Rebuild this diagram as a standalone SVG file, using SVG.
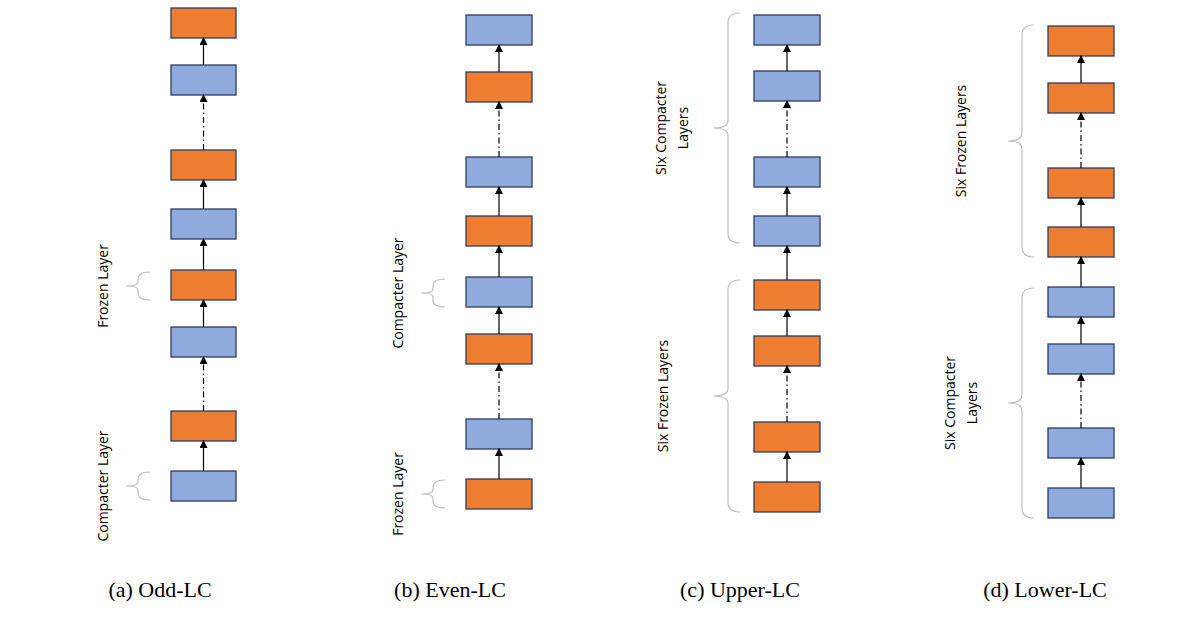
<svg xmlns="http://www.w3.org/2000/svg" width="1187" height="630" viewBox="0 0 1187 630">
<style>
.o{fill:#ed7d31;stroke:#2f3d5c;stroke-width:1.3}
.b{fill:#8faadc;stroke:#2f3d5c;stroke-width:1.3}
.s{stroke:#000;stroke-width:1.2;fill:none;marker-end:url(#ah)}
.d{stroke:#000;stroke-width:1.2;fill:none;stroke-dasharray:6 3 1.5 3;marker-end:url(#ah)}
.br{fill:none;stroke:#bfbfbf;stroke-width:1.2}
.l{font-family:"Open Sans","Noto Sans",sans-serif;font-size:14px;fill:#000;text-anchor:middle}
.c{font-family:"Liberation Serif",serif;font-size:22px;fill:#000;text-anchor:middle}
</style>
<defs><marker id="ah" markerWidth="8" markerHeight="8" refX="7" refY="4" orient="auto" markerUnits="userSpaceOnUse"><path d="M0,0 L8,4 L0,8 z" fill="#000"/></marker></defs>
<g id="nodes">
<g id="a"><rect class="o" x="171" y="8" width="65" height="30"/><rect class="b" x="171" y="65" width="65" height="30"/><rect class="o" x="171" y="150" width="65" height="30"/><rect class="b" x="171" y="209" width="65" height="30"/><rect class="o" x="171" y="270" width="65" height="30"/><rect class="b" x="171" y="327" width="65" height="30"/><rect class="o" x="171" y="411" width="65" height="30"/><rect class="b" x="171" y="471" width="65" height="30"/></g>
<g id="b"><rect class="b" x="466" y="15" width="66" height="30"/><rect class="o" x="466" y="72" width="66" height="30"/><rect class="b" x="466" y="157" width="66" height="30"/><rect class="o" x="466" y="216" width="66" height="30"/><rect class="b" x="466" y="277" width="66" height="30"/><rect class="o" x="466" y="334" width="66" height="30"/><rect class="b" x="466" y="419" width="66" height="30"/><rect class="o" x="466" y="479" width="66" height="30"/></g>
<g id="c"><rect class="b" x="754" y="15" width="66" height="30"/><rect class="b" x="754" y="71" width="66" height="30"/><rect class="b" x="754" y="157" width="66" height="30"/><rect class="b" x="754" y="216" width="66" height="30"/><rect class="o" x="754" y="280" width="66" height="30"/><rect class="o" x="754" y="336" width="66" height="30"/><rect class="o" x="754" y="422" width="66" height="30"/><rect class="o" x="754" y="482" width="66" height="30"/></g>
<g id="d"><rect class="o" x="1048" y="26" width="66" height="30"/><rect class="o" x="1048" y="83" width="66" height="30"/><rect class="o" x="1048" y="168" width="66" height="30"/><rect class="o" x="1048" y="227" width="66" height="30"/><rect class="b" x="1048" y="287" width="66" height="30"/><rect class="b" x="1048" y="344" width="66" height="30"/><rect class="b" x="1048" y="428" width="66" height="30"/><rect class="b" x="1048" y="488" width="66" height="30"/></g>
</g>
<g id="connectors">
<path class="s" d="M203.5 65V38"/><path class="d" d="M203.5 150V95"/><path class="s" d="M203.5 209V180"/><path class="s" d="M203.5 270V239"/><path class="s" d="M203.5 327V300"/><path class="d" d="M203.5 411V357"/><path class="s" d="M203.5 471V441"/>
<path class="s" d="M499 72V45"/><path class="d" d="M499 157V102"/><path class="s" d="M499 216V187"/><path class="s" d="M499 277V246"/><path class="s" d="M499 334V307"/><path class="d" d="M499 419V364"/><path class="s" d="M499 479V449"/>
<path class="s" d="M787 71V45"/><path class="d" d="M787 157V101"/><path class="s" d="M787 216V187"/><path class="s" d="M787 280V246"/><path class="s" d="M787 336V310"/><path class="d" d="M787 422V366"/><path class="s" d="M787 482V452"/>
<path class="s" d="M1081 83V56"/><path class="d" d="M1081 168V113"/><path class="s" d="M1081 227V198"/><path class="s" d="M1081 287V257"/><path class="s" d="M1081 344V317"/><path class="d" d="M1081 428V374"/><path class="s" d="M1081 488V458"/>
</g>
<g id="braces">
<path class="br" d="M150 272Q138 272 138 279V282Q138 286 126 286Q138 286 138 290V293Q138 300 150 300"/>
<path class="br" d="M150 472Q138 472 138 479V482Q138 486 126 486Q138 486 138 490V493Q138 500 150 500"/>
<path class="br" d="M445 279Q433 279 433 286V289Q433 293 421 293Q433 293 433 297V300Q433 307 445 307"/>
<path class="br" d="M445 480Q433 480 433 487V490Q433 494 421 494Q433 494 433 498V501Q433 508 445 508"/>
<path class="br" d="M740 13Q728 13 728 23V120Q728 128 714 128Q728 128 728 136V233Q728 243 740 243"/>
<path class="br" d="M740 280Q728 280 728 290V388Q728 396 714 396Q728 396 728 404V502Q728 512 740 512"/>
<path class="br" d="M1034 25Q1022 25 1022 35V133Q1022 141 1008 141Q1022 141 1022 149V247Q1022 257 1034 257"/>
<path class="br" d="M1034 288Q1022 288 1022 298V395Q1022 403 1008 403Q1022 403 1022 411V508Q1022 518 1034 518"/>
</g>
<g id="labels">
<text class="l" transform="translate(108 286) rotate(-90)">Frozen Layer</text>
<text class="l" transform="translate(108 486) rotate(-90)">Compacter Layer</text>
<text class="l" transform="translate(403 293) rotate(-90)">Compacter Layer</text>
<text class="l" transform="translate(403 494) rotate(-90)">Frozen Layer</text>
<text class="l" transform="translate(666 128) rotate(-90)">Six Compacter</text>
<text class="l" transform="translate(688 128) rotate(-90)">Layers</text>
<text class="l" transform="translate(668 396) rotate(-90)">Six Frozen Layers</text>
<text class="l" transform="translate(966 141) rotate(-90)">Six Frozen Layers</text>
<text class="l" transform="translate(955 403) rotate(-90)">Six Compacter</text>
<text class="l" transform="translate(977 403) rotate(-90)">Layers</text>
<text class="c" x="160" y="597">(a) Odd-LC</text>
<text class="c" x="450" y="597">(b) Even-LC</text>
<text class="c" x="740" y="597">(c) Upper-LC</text>
<text class="c" x="1045" y="597">(d) Lower-LC</text>
</g>
</svg>
